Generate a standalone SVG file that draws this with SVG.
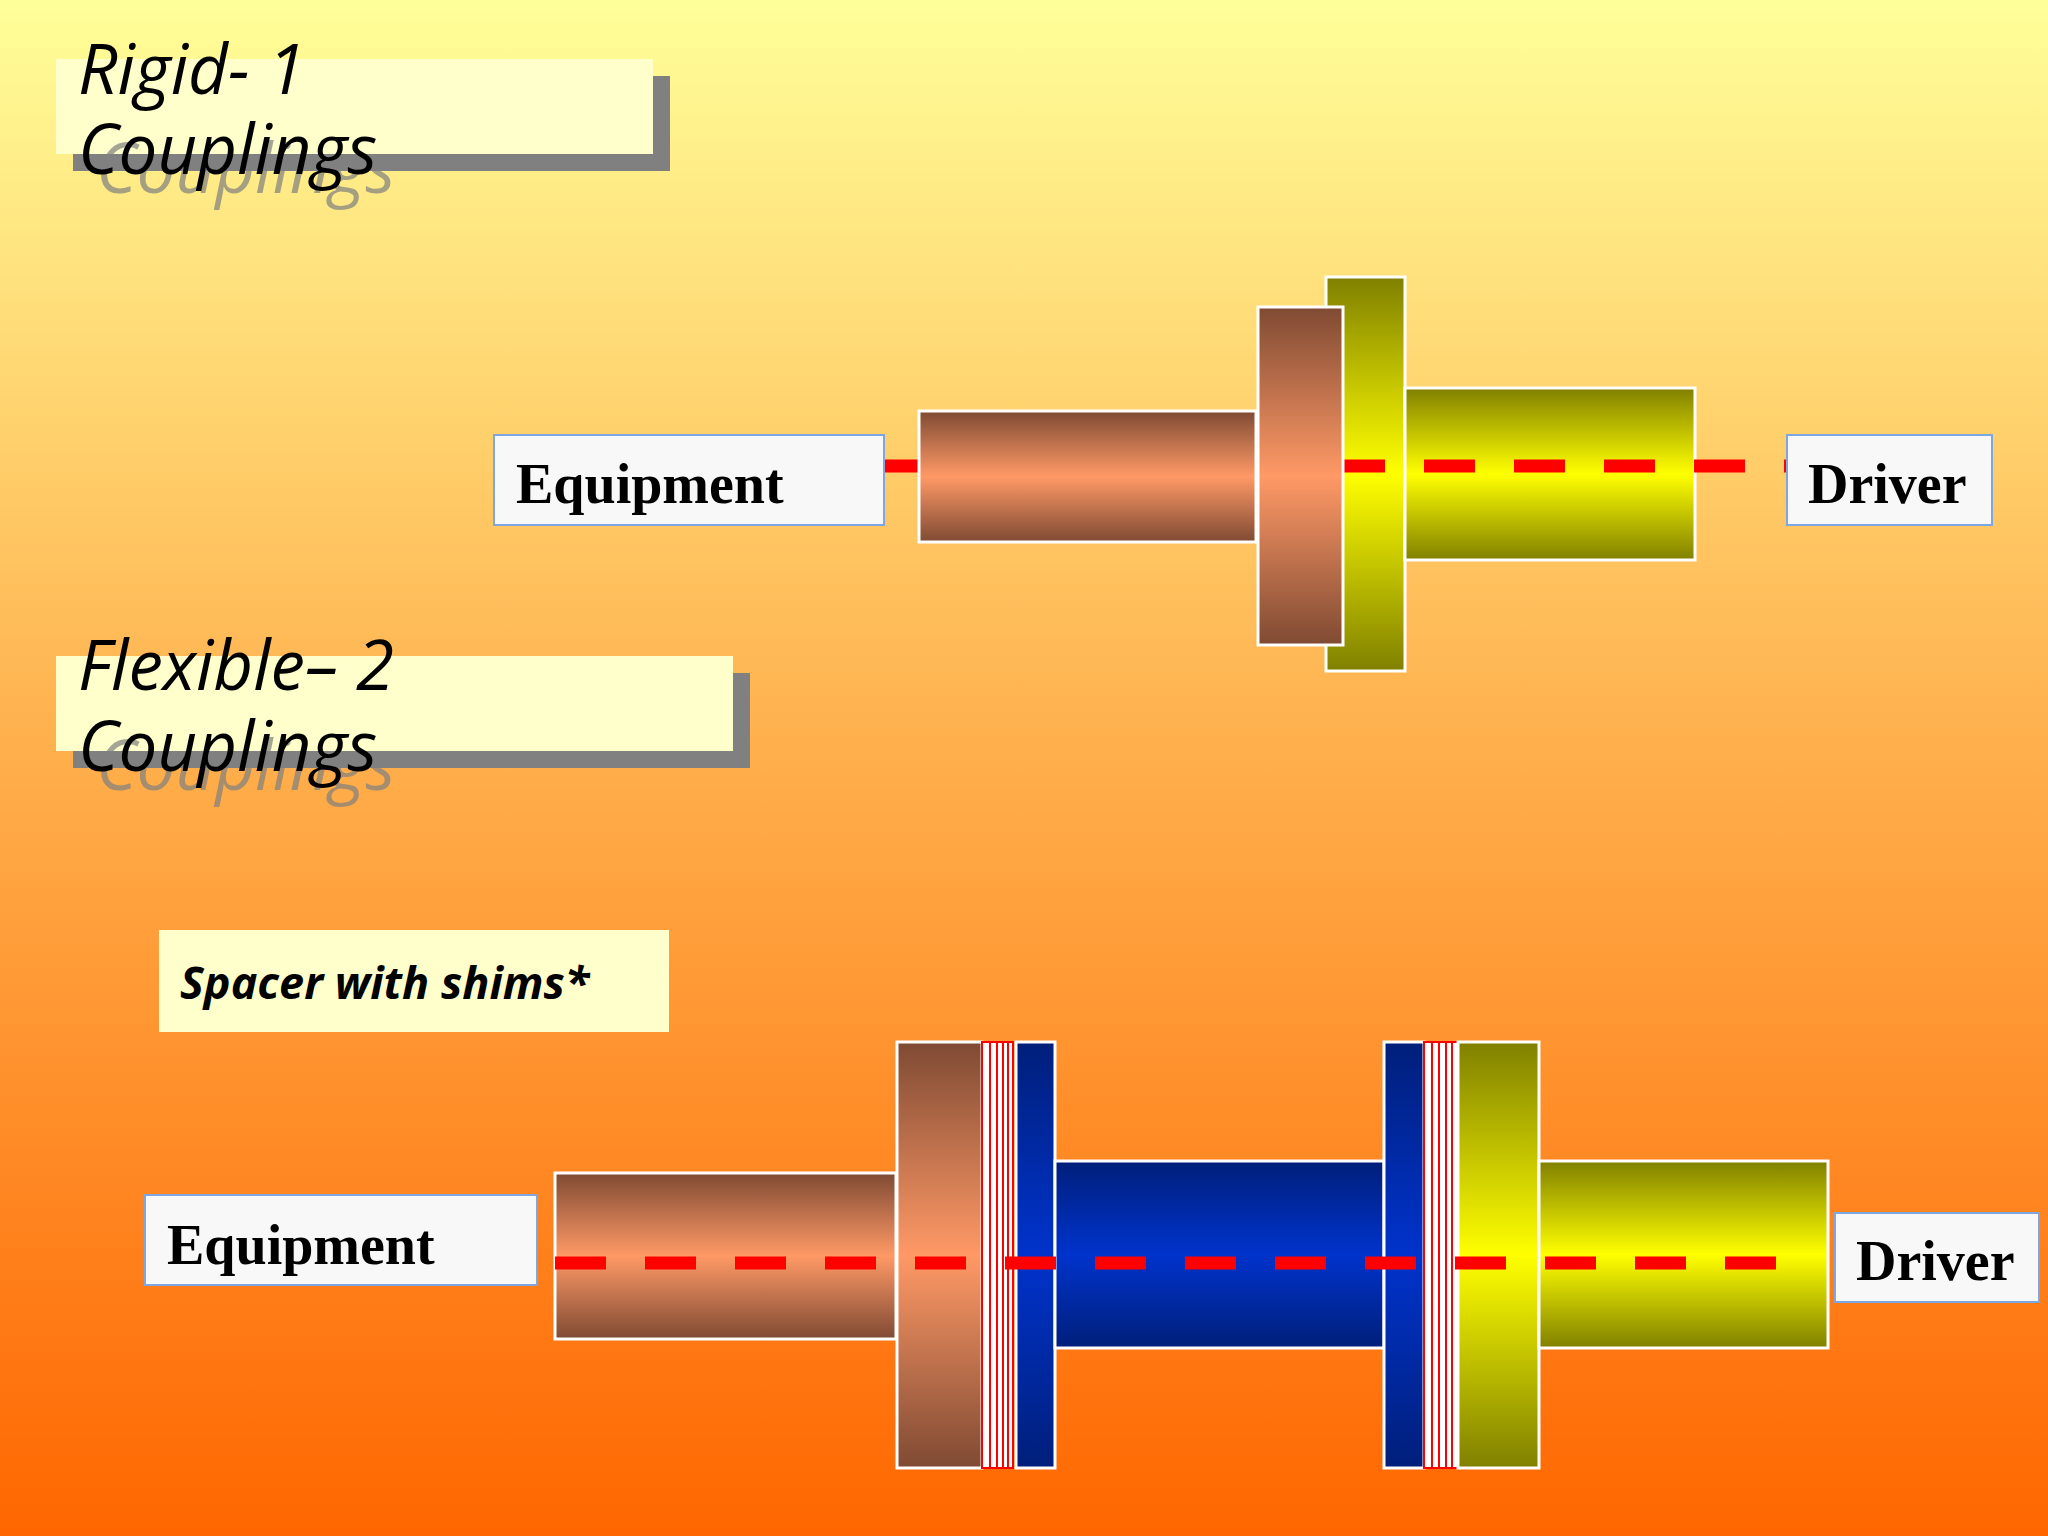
<svg xmlns="http://www.w3.org/2000/svg" width="2048" height="1536" viewBox="0 0 2048 1536">
<defs>
<linearGradient id="bg" x1="0" y1="0" x2="0" y2="1"><stop offset="0" stop-color="#FFFF99"/><stop offset="0.45" stop-color="#FFB552"/><stop offset="1" stop-color="#FF6600"/></linearGradient>
<linearGradient id="cu" x1="0" y1="0" x2="0" y2="1"><stop offset="0" stop-color="#7F4A33"/><stop offset="0.5" stop-color="#FF9966"/><stop offset="1" stop-color="#7F4A33"/></linearGradient>
<linearGradient id="ye" x1="0" y1="0" x2="0" y2="1"><stop offset="0" stop-color="#808000"/><stop offset="0.5" stop-color="#FFFF00"/><stop offset="1" stop-color="#808000"/></linearGradient>
<linearGradient id="bl" x1="0" y1="0" x2="0" y2="1"><stop offset="0" stop-color="#001F7A"/><stop offset="0.5" stop-color="#0033CC"/><stop offset="1" stop-color="#001F7A"/></linearGradient>
<style>
.part{stroke:#FFFFFF;stroke-width:3}
.lbl{fill:#F8F8F8;stroke:#7EA6E0;stroke-width:2}
.lt{font-family:"Liberation Serif",serif;font-weight:bold;font-size:56px;fill:#000}
.tt{font-family:"Open Sans","Noto Sans",sans-serif;font-style:italic;font-size:69px;fill:#000}
.gh{font-family:"Open Sans","Noto Sans",sans-serif;font-style:italic;font-size:69px;fill:#808080;opacity:0.7}
.axis{stroke:#FF0000;stroke-width:13;stroke-dasharray:51 39;fill:none}
.shim{fill:#FFFFFF;stroke:#FF0000;stroke-width:2}
.sl{stroke:#FF0000;stroke-width:2}
</style>
</defs>
<rect width="2048" height="1536" fill="url(#bg)"/>
<g id="title1">
<rect x="73" y="76" width="597" height="95" fill="#808080"/>
<rect x="56" y="59" width="597" height="95" fill="#FFFFCC"/>
<text class="gh" x="96" y="193">Couplings</text>
<text class="tt" x="78" y="94">Rigid- 1</text>
<text class="tt" x="78" y="174">Couplings</text>
</g>
<g id="title2">
<rect x="73" y="673" width="677" height="95" fill="#808080"/>
<rect x="56" y="656" width="677" height="95" fill="#FFFFCC"/>
<text class="gh" x="96" y="790">Couplings</text>
<text class="tt" x="78" y="690">Flexible– 2</text>
<text class="tt" x="78" y="771">Couplings</text>
</g>
<g id="rigid">
<rect class="part" x="1326" y="277" width="79" height="394" fill="url(#ye)"/>
<rect class="part" x="1405" y="388" width="290" height="172" fill="url(#ye)"/>
<g id="connectors-top"><line class="axis" x1="884" y1="466" x2="1787" y2="466"/></g>
<rect class="part" x="919" y="411" width="337" height="131" fill="url(#cu)"/>
<rect class="part" x="1258" y="307" width="85" height="338" fill="url(#cu)"/>
</g>
<g id="equip1"><rect class="lbl" x="494" y="435" width="390" height="90"/><text class="lt" x="516" y="503">Equipment</text></g>
<g id="driver1"><rect class="lbl" x="1787" y="435" width="205" height="90"/><text class="lt" x="1808" y="503">Driver</text></g>
<g id="spacerlabel"><rect x="159" y="930" width="510" height="102" fill="#FFFFCC"/><text x="180" y="999" font-family="'Open Sans','Noto Sans',sans-serif" font-weight="bold" font-style="italic" font-size="45" fill="#000">Spacer with shims*</text></g>
<g id="flexible">
<rect class="part" x="555" y="1173" width="341" height="166" fill="url(#cu)"/>
<rect class="part" x="897" y="1042" width="85" height="426" fill="url(#cu)"/>
<rect class="shim" x="982" y="1042" width="31" height="426"/>
<line class="sl" x1="990" y1="1042" x2="990" y2="1468"/><line class="sl" x1="997" y1="1042" x2="997" y2="1468"/><line class="sl" x1="1003" y1="1042" x2="1003" y2="1468"/><line class="sl" x1="1008" y1="1042" x2="1008" y2="1468"/>
<rect class="part" x="1016" y="1042" width="39" height="426" fill="url(#bl)"/>
<rect class="part" x="1055" y="1161" width="329" height="187" fill="url(#bl)"/>
<rect class="part" x="1384" y="1042" width="40" height="426" fill="url(#bl)"/>
<rect class="shim" x="1424" y="1042" width="34" height="426"/>
<line class="sl" x1="1432" y1="1042" x2="1432" y2="1468"/><line class="sl" x1="1439" y1="1042" x2="1439" y2="1468"/><line class="sl" x1="1446" y1="1042" x2="1446" y2="1468"/><line class="sl" x1="1452" y1="1042" x2="1452" y2="1468"/>
<rect class="part" x="1458" y="1042" width="81" height="426" fill="url(#ye)"/>
<rect class="part" x="1539" y="1161" width="289" height="187" fill="url(#ye)"/>
</g>
<g id="connectors-bottom"><line class="axis" x1="555" y1="1263" x2="1815" y2="1263"/></g>
<g id="equip2"><rect class="lbl" x="145" y="1195" width="392" height="90"/><text class="lt" x="167" y="1264">Equipment</text></g>
<g id="driver2"><rect class="lbl" x="1835" y="1213" width="204" height="89"/><text class="lt" x="1856" y="1280">Driver</text></g>
</svg>
